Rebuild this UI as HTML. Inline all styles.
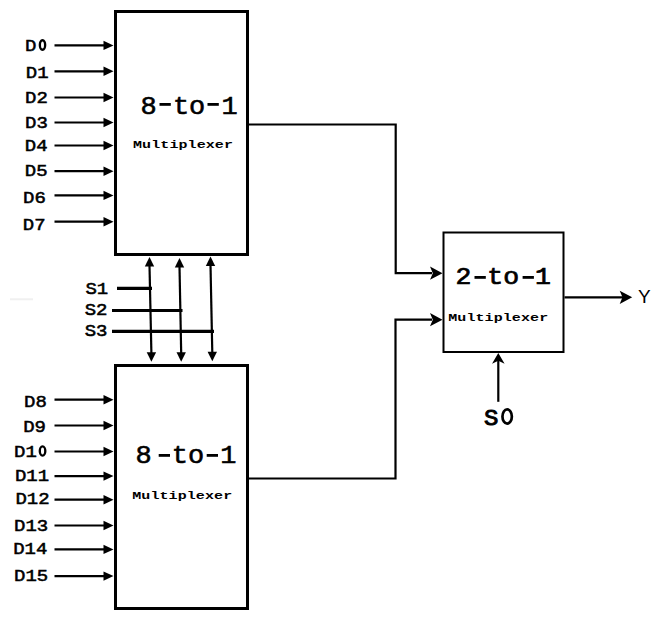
<!DOCTYPE html><html><head><meta charset="utf-8"><style>html,body{margin:0;padding:0;background:#fff;width:658px;height:626px;overflow:hidden}svg{display:block}text{font-family:"Liberation Mono",monospace;fill:#000}</style></head><body>
<svg width="658" height="626" viewBox="0 0 658 626">
<rect width="658" height="626" fill="#fff"/>
<rect x="10" y="298.3" width="23" height="2" fill="#f0f0f0"/>
<rect x="115.5" y="11.5" width="132" height="243" fill="none" stroke="#000" stroke-width="3"/>
<rect x="115.5" y="365.5" width="132" height="243" fill="none" stroke="#000" stroke-width="3"/>
<rect x="443.5" y="232.5" width="120" height="119.5" fill="none" stroke="#000" stroke-width="2"/>
<line x1="54.5" y1="45.4" x2="104.5" y2="45.4" stroke="#000" stroke-width="2.2"/>
<path d="M103.5 40.7L113.5 45.4L103.5 50.1Z" fill="#000"/>
<line x1="54.5" y1="71.3" x2="104.5" y2="71.3" stroke="#000" stroke-width="2.2"/>
<path d="M103.5 66.6L113.5 71.3L103.5 76.0Z" fill="#000"/>
<line x1="54.5" y1="97.5" x2="104.5" y2="97.5" stroke="#000" stroke-width="2.2"/>
<path d="M103.5 92.8L113.5 97.5L103.5 102.2Z" fill="#000"/>
<line x1="54.5" y1="122.5" x2="104.5" y2="122.5" stroke="#000" stroke-width="2.2"/>
<path d="M103.5 117.8L113.5 122.5L103.5 127.2Z" fill="#000"/>
<line x1="54.5" y1="145.5" x2="104.5" y2="145.5" stroke="#000" stroke-width="2.2"/>
<path d="M103.5 140.8L113.5 145.5L103.5 150.2Z" fill="#000"/>
<line x1="54.5" y1="171.2" x2="104.5" y2="171.2" stroke="#000" stroke-width="2.2"/>
<path d="M103.5 166.5L113.5 171.2L103.5 175.9Z" fill="#000"/>
<line x1="54.5" y1="195.4" x2="104.5" y2="195.4" stroke="#000" stroke-width="2.2"/>
<path d="M103.5 190.7L113.5 195.4L103.5 200.1Z" fill="#000"/>
<line x1="54.5" y1="221.7" x2="104.5" y2="221.7" stroke="#000" stroke-width="2.2"/>
<path d="M103.5 217.0L113.5 221.7L103.5 226.4Z" fill="#000"/>
<line x1="54.5" y1="399.7" x2="104.5" y2="399.7" stroke="#000" stroke-width="2.2"/>
<path d="M103.5 395.0L113.5 399.7L103.5 404.4Z" fill="#000"/>
<line x1="54.5" y1="425.5" x2="104.5" y2="425.5" stroke="#000" stroke-width="2.2"/>
<path d="M103.5 420.8L113.5 425.5L103.5 430.2Z" fill="#000"/>
<line x1="54.5" y1="451.5" x2="104.5" y2="451.5" stroke="#000" stroke-width="2.2"/>
<path d="M103.5 446.8L113.5 451.5L103.5 456.2Z" fill="#000"/>
<line x1="54.5" y1="476.1" x2="104.5" y2="476.1" stroke="#000" stroke-width="2.2"/>
<path d="M103.5 471.4L113.5 476.1L103.5 480.8Z" fill="#000"/>
<line x1="54.5" y1="499.7" x2="104.5" y2="499.7" stroke="#000" stroke-width="2.2"/>
<path d="M103.5 495.0L113.5 499.7L103.5 504.4Z" fill="#000"/>
<line x1="54.5" y1="525.5" x2="104.5" y2="525.5" stroke="#000" stroke-width="2.2"/>
<path d="M103.5 520.8L113.5 525.5L103.5 530.2Z" fill="#000"/>
<line x1="54.5" y1="549.4" x2="104.5" y2="549.4" stroke="#000" stroke-width="2.2"/>
<path d="M103.5 544.7L113.5 549.4L103.5 554.1Z" fill="#000"/>
<line x1="54.5" y1="576.1" x2="104.5" y2="576.1" stroke="#000" stroke-width="2.2"/>
<path d="M103.5 571.4L113.5 576.1L103.5 580.8Z" fill="#000"/>
<text transform="translate(25.00 50.70) scale(1 0.860)" font-size="19" stroke="#000" stroke-width="0.6">D</text>
<text transform="translate(25.80 77.50) scale(1 0.860)" font-size="19" stroke="#000" stroke-width="0.6">D1</text>
<text transform="translate(25.00 102.50) scale(1 0.860)" font-size="19" stroke="#000" stroke-width="0.6">D2</text>
<text transform="translate(25.00 128.00) scale(1 0.860)" font-size="19" stroke="#000" stroke-width="0.6">D3</text>
<text transform="translate(24.80 150.70) scale(1 0.860)" font-size="19" stroke="#000" stroke-width="0.6">D4</text>
<text transform="translate(24.80 176.40) scale(1 0.860)" font-size="19" stroke="#000" stroke-width="0.6">D5</text>
<text transform="translate(23.00 202.60) scale(1 0.860)" font-size="19" stroke="#000" stroke-width="0.6">D6</text>
<text transform="translate(22.80 229.60) scale(1 0.860)" font-size="19" stroke="#000" stroke-width="0.6">D7</text>
<text transform="translate(24.00 406.70) scale(1 0.860)" font-size="19" stroke="#000" stroke-width="0.6">D8</text>
<text transform="translate(23.20 431.60) scale(1 0.860)" font-size="19" stroke="#000" stroke-width="0.6">D9</text>
<text transform="translate(14.00 456.60) scale(1 0.860)" font-size="19" stroke="#000" stroke-width="0.6">D1</text>
<text transform="translate(14.90 480.50) scale(1 0.860)" font-size="19" stroke="#000" stroke-width="0.6">D11</text>
<text transform="translate(15.40 504.40) scale(1 0.860)" font-size="19" stroke="#000" stroke-width="0.6">D12</text>
<text transform="translate(14.00 530.70) scale(1 0.860)" font-size="19" stroke="#000" stroke-width="0.6">D13</text>
<text transform="translate(13.20 554.10) scale(1 0.860)" font-size="19" stroke="#000" stroke-width="0.6">D14</text>
<text transform="translate(14.00 580.50) scale(1 0.860)" font-size="19" stroke="#000" stroke-width="0.6">D15</text>
<text transform="translate(140.50 113.70) scale(1 0.930)" font-size="27" stroke="#000" stroke-width="0.6" style="white-space:pre" xml:space="preserve">8 to 1</text>
<rect x="159.5" y="103.0" width="11.3" height="2.8"/>
<rect x="207.5" y="103.0" width="11.3" height="2.8"/>
<rect x="158.7" y="454.0" width="11.3" height="2.8"/>
<rect x="206.7" y="454.0" width="11.3" height="2.8"/>
<rect x="474.5" y="276.0" width="11.3" height="2.8"/>
<rect x="522.6" y="276.0" width="11.3" height="2.8"/>
<text transform="translate(135.50 462.80) scale(1 0.930)" font-size="27" stroke="#000" stroke-width="0.6" style="white-space:pre" xml:space="preserve">8</text>
<text transform="translate(155.50 462.80) scale(1 0.930)" font-size="27" stroke="#000" stroke-width="0.6" style="white-space:pre" xml:space="preserve"> to 1</text>
<text transform="translate(455.50 283.80) scale(1 0.930)" font-size="26.5" stroke="#000" stroke-width="0.8" style="white-space:pre" xml:space="preserve">2 to 1</text>
<text transform="translate(133.00 147.80) scale(1 0.76)" font-size="15" font-weight="bold" letter-spacing="0.1">Multiplexer</text>
<text transform="translate(132.20 498.80) scale(1 0.76)" font-size="15" font-weight="bold" letter-spacing="0.1">Multiplexer</text>
<text transform="translate(448.20 320.50) scale(1 0.76)" font-size="15" font-weight="bold" letter-spacing="0.1">Multiplexer</text>
<path d="M249 124.5H395.7V273.2H432" fill="none" stroke="#000" stroke-width="2.2"/>
<path d="M249 478.5H395.5V319.7H432" fill="none" stroke="#000" stroke-width="2.2"/>
<path d="M442.5 273.2L430.0 266.6L432.8 273.2L430.0 279.8Z" fill="#000"/>
<path d="M442.5 319.7L430.0 313.1L432.8 319.7L430.0 326.3Z" fill="#000"/>
<path d="M564.5 297.3H625" fill="none" stroke="#000" stroke-width="2.2"/>
<path d="M632.2 297.3L619.7 290.7L622.5 297.3L619.7 303.9Z" fill="#000"/>
<text x="638" y="303.4" font-size="19" style="font-family:'Liberation Sans',sans-serif">Y</text>
<line x1="498.3" y1="401.8" x2="498.3" y2="360" stroke="#000" stroke-width="2.2"/>
<path d="M498.3 352.9L504.6 363.7L498.3 360.7L492 363.7Z" fill="#000"/>
<text transform="translate(484.0 424.9) scale(1 0.95)" font-size="24" stroke="#000" stroke-width="1.0">S</text>
<ellipse cx="42.5" cy="45" rx="2.65" ry="4.75" fill="none" stroke="#000" stroke-width="2.35"/>
<ellipse cx="42.55" cy="451" rx="2.75" ry="4.6" fill="none" stroke="#000" stroke-width="2.35"/>
<ellipse cx="507.15" cy="416.55" rx="4.7" ry="7.1" fill="none" stroke="#000" stroke-width="2.7"/>
<text transform="translate(85.40 293.60) scale(1 0.860)" font-size="19" stroke="#000" stroke-width="0.6">S1</text>
<text transform="translate(84.70 314.80) scale(1 0.860)" font-size="19" stroke="#000" stroke-width="0.6">S2</text>
<text transform="translate(84.70 335.80) scale(1 0.860)" font-size="19" stroke="#000" stroke-width="0.6">S3</text>
<line x1="117" y1="288.4" x2="152" y2="288.4" stroke="#000" stroke-width="3.2"/>
<line x1="112" y1="310.5" x2="182.5" y2="310.5" stroke="#000" stroke-width="3.2"/>
<line x1="112" y1="331.4" x2="214" y2="331.4" stroke="#000" stroke-width="3.2"/>
<line x1="149.5" y1="265.5" x2="151.4" y2="353.3" stroke="#000" stroke-width="2.2"/>
<path d="M149.5 257.0L154.2 266.5L144.8 266.5Z" fill="#000"/>
<path d="M151.4 361.8L156.1 352.3L146.7 352.3Z" fill="#000"/>
<line x1="179.5" y1="266.5" x2="181.2" y2="353.3" stroke="#000" stroke-width="2.2"/>
<path d="M179.5 258.0L184.2 267.5L174.8 267.5Z" fill="#000"/>
<path d="M181.2 361.8L185.9 352.3L176.5 352.3Z" fill="#000"/>
<line x1="210.5" y1="265.0" x2="212.3" y2="352.7" stroke="#000" stroke-width="2.2"/>
<path d="M210.5 256.5L215.2 266.0L205.8 266.0Z" fill="#000"/>
<path d="M212.3 361.2L217.0 351.7L207.6 351.7Z" fill="#000"/>
</svg></body></html>
